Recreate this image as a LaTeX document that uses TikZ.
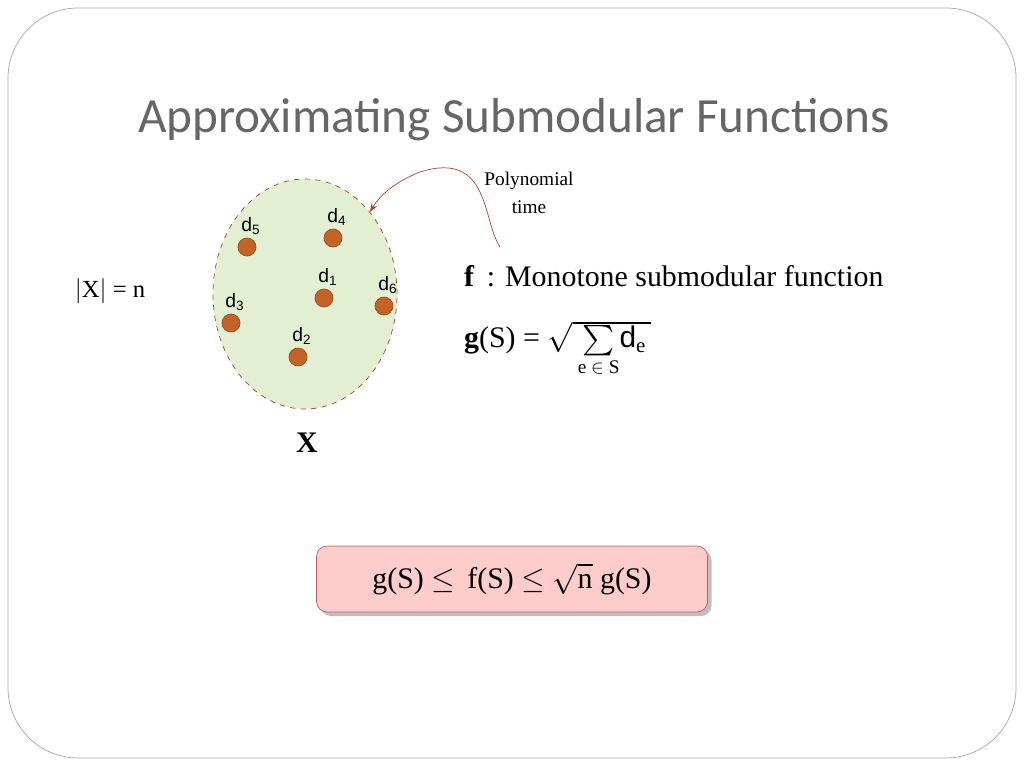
\documentclass[tikz,border=0pt]{standalone}
\usepackage{amsmath}
\usepackage{fontspec}
\setmainfont{Liberation Serif}
\setsansfont{Carlito}
\newfontfamily\dfont{Liberation Sans}
\usetikzlibrary{arrows.meta,shadows,shapes.geometric}
\definecolor{dotfill}{RGB}{196,98,40}
\definecolor{rimred}{RGB}{170,70,40}
\definecolor{setgreen}{RGB}{226,239,210}
\definecolor{boxpink}{RGB}{255,204,204}
\definecolor{boxrim}{RGB}{200,90,90}
\tikzset{
  elem/.style={circle, fill=dotfill, draw=dotfill!80!black, minimum size=18*0.02cm, inner sep=0pt},
  elemlabel/.style={font=\dfont\fontsize{11}{12}\selectfont, inner sep=0pt}
}
\begin{document}
\begin{tikzpicture}[x=0.02cm, y=-0.02cm, >=Stealth]
    \useasboundingbox (0,0) rectangle (1024,768);
    \draw[gray!70, rounded corners=40] (8,8) rectangle (1016,758);

    % title
    \node[text=black!60, font=\sffamily\fontsize{28}{30}\selectfont] (title) at (514,120) {Approximating Submodular Functions};

    % the set X
    \node[ellipse, minimum width=184*0.02cm, minimum height=230*0.02cm, fill=setgreen, draw=rimred, dashed] (setX) at (305,294) {};
    \foreach \name/\x/\y/\i in {e5/247/247/5, e4/333/238/4, e1/324/298/1, e6/384/306/6, e3/231/323/3, e2/298/357/2} {
        \node[elem] (\name) at (\x,\y) {};
        \node[elemlabel, anchor=south west] at ([xshift=-0.12cm, yshift=0.05cm]\name.north) {d\textsubscript{\i}};
    }
    \node[font=\bfseries\fontsize{17}{18}\selectfont] (xlab) at (307,443) {X};
    \node[font=\fontsize{14}{16}\selectfont] (size) at (110,291) {$|$X$|$ = n};

    % polynomial time arrow
    \node[font=\fontsize{11}{16}\selectfont, align=center] (poly) at (529,193) {Polynomial\\time};
    \coordinate (tail) at (500,247);
    \draw[->, rimred] (tail) .. controls (482,220) and (490,150) .. (420,172) .. controls (395,182) and (380,195) .. (370,212);

    % definitions
    \node[font=\fontsize{17}{20}\selectfont, anchor=west] (fdef) at (458,276) {\textbf{f} \,: Monotone submodular function};
    \node[font=\fontsize{17}{20}\selectfont, anchor=west] (gdef) at (458,349) {\textbf{g}(S) = $\sqrt{\,\smash[b]{\sum\limits_{\text{\fontsize{11}{12}\selectfont e $\in$ S}}} \text{\dfont d}_{\text{e}}\,}$\vphantom{$\sum\limits_{e}$}};

    % bound
    \node[draw=boxrim, fill=boxpink, rounded corners=6, drop shadow, minimum width=391*0.02cm, minimum height=66*0.02cm, font=\fontsize{17}{20}\selectfont] (bound) at (512,579) {g(S) $\leq$\, f(S) $\leq$ $\sqrt{\text{n}}$ g(S)};
\end{tikzpicture}
\end{document}
